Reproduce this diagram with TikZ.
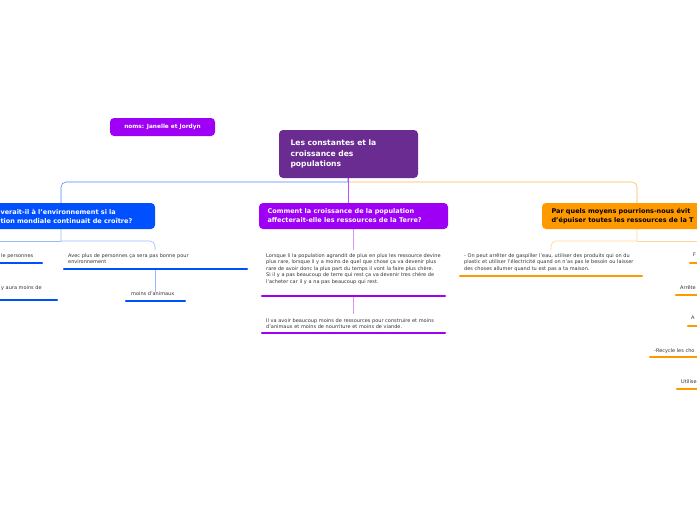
\documentclass[tikz,border=0pt]{standalone}
\usepackage{fontspec}
\setmainfont{DejaVu Sans}
\begin{document}
\begin{tikzpicture}[x=1pt,y=-1pt,
  box/.style={rounded corners=4pt,inner sep=0pt},
  ttl/.style={font=\fontsize{7}{9}\selectfont\bfseries,text=white,align=left,anchor=west},
  leaf/.style={font=\fontsize{5}{6.6}\selectfont,text=black!80,align=left,anchor=north west,inner sep=0pt},
  ul/.style={line width=2.2pt,line cap=round},
  con/.style={line width=0.6pt}]
\definecolor{cblue}{HTML}{0050FF}
\definecolor{cpur}{HTML}{9E00F5}
\definecolor{corg}{HTML}{FF9900}
\definecolor{cdark}{HTML}{6A2C91}
\useasboundingbox (0,0) rectangle (697,520);
\clip (0,0) rectangle (697,520);
% connectors
\draw[con,cblue!70] (348,178) -- (348,182) -- (66,182) to[out=180,in=90] (61,187) -- (61,203);
\draw[con,corg!70] (348,182) -- (632,182) to[out=0,in=90] (637,187) -- (637,203);
\draw[con,cpur!70] (348,178) -- (348,203);
\draw[con,cblue!40] (61,229) -- (61,241) -- (150,241) to[out=0,in=90] (155,246) -- (155,250);
\draw[con,cblue!40] (61,241) -- (-10,241);
\draw[con,cblue!40] (155,269) -- (155,292);
\draw[con,cpur!40] (353,229) -- (353,250);
\draw[con,cpur!40] (353,296) -- (353,314);
\draw[con,corg!40] (637,229) -- (637,241) -- (556,241) to[out=180,in=90] (551,246) -- (551,250);
\draw[con,corg!40] (637,241) -- (700,241);
% boxes
\node[box,fill=cpur,minimum width=105pt,minimum height=18pt] (noms) at (162.5,127) {};
\node[font=\fontsize{5.8}{7}\selectfont\bfseries,text=white] at (noms) {noms: Janelle et Jordyn};
\fill[cdark,rounded corners=4pt] (279,130) rectangle (418,178);
\node[ttl,font=\fontsize{7.6}{10.5}\selectfont\bfseries,text width=120pt] (c) at (287,154) {Les constantes et la\\croissance des\\populations};
\fill[cblue,rounded corners=4pt] (-20,203) rectangle (155,229);
\node[ttl,font=\fontsize{6.5}{9}\selectfont\bfseries] (q1) at (-3,216) {verait-il à l'environnement si la\\tion mondiale continuait de croître?};
\fill[cpur,rounded corners=4pt] (259,203) rectangle (448,229);
\node[ttl,font=\fontsize{6.5}{9}\selectfont\bfseries] (q2) at (264,216) {Comment la croissance de la population\\affecterait-elle les ressources de la Terre?};
\fill[corg,rounded corners=4pt] (542,203) rectangle (720,229);
\node[ttl,text=black,font=\fontsize{6.5}{9}\selectfont\bfseries] (q3) at (548,216) {Par quels moyens pourrions-nous évit\\d'épuiser toutes les ressources de la T};
% left leaves
\node[leaf] at (1,253) {le personnes};
\draw[ul,cblue] (-5,263) -- (42,263);
\node[leaf] at (1,285) {y aura moins de};
\draw[ul,cblue] (-5,300) -- (57,300);
\node[leaf,text width=180pt] at (68,253) {Avec plus de personnes ça sera pas bonne pour\\environnement};
\draw[ul,cblue] (64,269) -- (247,269);
\node[leaf] at (131,291) {moins d'animaux};
\draw[ul,cblue] (126,301) -- (185,301);
% middle leaves
\node[leaf,text width=176pt] at (266,253) {Lorsque li la population agrandit de plus en plus les ressource devine plus rare, lorsque il y a moins de quel que chose ça va devenir plus rare de avoir donc la plus part du temps il vont la faire plus chère. Si il y a pas beaucoup de terre qui rest ça va devenir tres chère de l'acheter car il y a na pas beaucoup qui rest.};
\draw[ul,cpur] (262,296) -- (445,296);
\node[leaf,text width=176pt] at (266,318) {Il va avoir beaucoup moins de ressources pour construire et moins d'animaux et moins de nourriture et moins de viande.};
\draw[ul,cpur] (262,333) -- (445,333);
% right leaves
\node[leaf,text width=178pt] at (464,253) {- On peut arrêter de gaspiller l'eau, utiliser des produits qui on du plastic et utiliser l'électricité quand on n'as pas le besoin ou laisser des choses allumer quand tu est pas a ta maison.};
\draw[ul,corg] (460,276) -- (642,276);
\node[leaf] at (693,253) {F};
\draw[ul,corg] (690,263) -- (700,263);
\node[leaf] at (680,285) {Arrête};
\draw[ul,corg] (676,295) -- (700,295);
\node[leaf] at (691,316) {A};
\draw[ul,corg] (688,326) -- (700,326);
\node[leaf] at (654,348) {-Recycle les cho};
\draw[ul,corg] (650,357) -- (700,357);
\node[leaf] at (681,379) {Utilise};
\draw[ul,corg] (677,389) -- (700,389);
\end{tikzpicture}
\end{document}
